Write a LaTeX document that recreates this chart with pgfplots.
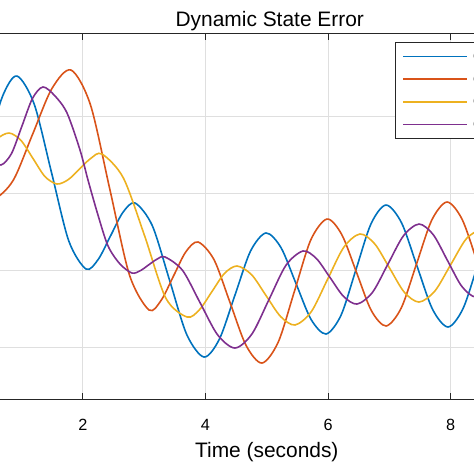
\documentclass[border=0pt]{standalone}
\usepackage{pgfplots}
\pgfplotsset{compat=1.18}
\usepackage{fontspec}
\setmainfont{Liberation Sans}

\definecolor{mblue}{RGB}{0,114,189}
\definecolor{morange}{RGB}{217,83,25}
\definecolor{myellow}{RGB}{237,177,32}
\definecolor{mpurple}{RGB}{126,47,142}
\definecolor{maxis}{RGB}{38,38,38}
\definecolor{mgrid}{RGB}{223,223,223}

\begin{document}
\begin{tikzpicture}
% the figure is a crop of a wider MATLAB plot
\useasboundingbox (0bp,0bp) rectangle (474bp,474bp);
\begin{axis}[
    at={(-39.7bp,75bp)}, anchor=south west,
    scale only axis, width=613bp, height=365bp,
    xmin=0, xmax=10, ymin=-1.675, ymax=3.065,
    xtick={2,4,6,8}, ytick={-1,0,1,2}, yticklabels={},
    grid=major, major grid style={mgrid, line width=1bp},
    axis line style={maxis, line width=1bp},
    tick style={maxis, line width=1bp}, major tick length=6bp,
    tick align=inside,
    /pgf/number format/assume math mode=true,
    ticklabel style={font=\fontsize{16.3}{19}\selectfont, text=black},
    xticklabel style={anchor=base, yshift=-31bp},
    every axis title shift=0pt,
    title={Dynamic State Error},
    title style={font=\fontsize{21}{25}\selectfont, at={(axis description cs:0.5,1.0192)}, anchor=base, xshift=3bp},
    xlabel={Time (seconds)},
    xlabel style={font=\fontsize{21}{25}\selectfont, at={(axis description cs:0.5,-0.1616)}, anchor=base},
    legend style={at={(axis description cs:0.709,0.978)}, anchor=north west,
        draw=maxis, line width=1bp, fill=white,
        font=\fontsize{16}{19}\selectfont,
        inner xsep=7bp, inner ysep=2.6bp, row sep=0pt, column sep=5bp,
        nodes={inner sep=0pt, text height=15.4bp, text depth=7.3bp}},
    legend cell align=left,
    legend image code/.code={\draw[#1, line width=1.6bp] (0bp,0bp) -- (64bp,0bp);},
    every axis plot/.append style={line width=1.6bp, smooth},
]
\addplot[mblue] coordinates {
(0.000,0.766) (0.228,1.022) (0.460,1.643) (0.693,2.264) (0.925,2.519)
(1.206,2.153) (1.488,1.266) (1.769,0.379) (2.051,0.013) (2.250,0.138)
(2.450,0.442) (2.650,0.745) (2.850,0.870) (3.131,0.578) (3.413,-0.130)
(3.694,-0.838) (3.976,-1.130) (4.228,-0.895) (4.481,-0.325) (4.734,0.245)
(4.987,0.481) (5.232,0.290) (5.476,-0.175) (5.721,-0.640) (5.966,-0.831)
(6.211,-0.587) (6.455,0.006) (6.700,0.600) (6.945,0.844) (7.198,0.613)
(7.450,0.052) (7.703,-0.509) (7.956,-0.740) (8.201,-0.501) (8.446,0.078)
(8.690,0.657) (8.935,0.896)
};
\addlegendentry{e\textsubscript{1}}
\addplot[morange] coordinates {
(0.000,1.065) (0.273,0.987) (0.550,0.922) (0.864,1.166) (1.178,1.760)
(1.492,2.353) (1.806,2.597) (2.124,2.143) (2.442,1.039) (2.760,-0.065)
(3.078,-0.519) (3.278,-0.391) (3.478,-0.078) (3.678,0.235) (3.878,0.364)
(4.139,0.134) (4.400,-0.422) (4.661,-0.978) (4.922,-1.208) (5.187,-0.935)
(5.452,-0.273) (5.717,0.390) (5.982,0.662) (6.223,0.460) (6.464,-0.032)
(6.704,-0.525) (6.945,-0.727) (7.194,-0.492) (7.442,0.078) (7.691,0.648)
(7.940,0.883) (8.185,0.660) (8.429,0.117) (8.674,-0.426) (8.919,-0.649)
};
\addlegendentry{e\textsubscript{2}}
\addplot[myellow] coordinates {
(0.000,1.234) (0.195,1.313) (0.395,1.506) (0.595,1.700) (0.795,1.779)
(0.990,1.683) (1.186,1.448) (1.382,1.213) (1.578,1.117) (1.761,1.174)
(1.945,1.312) (2.128,1.449) (2.312,1.506) (2.659,1.197) (3.005,0.448)
(3.352,-0.364) (3.699,-0.610) (3.903,-0.514) (4.106,-0.279) (4.310,-0.044)
(4.514,0.052) (4.751,-0.060) (4.987,-0.331) (5.224,-0.603) (5.460,-0.714)
(5.725,-0.542) (5.990,-0.123) (6.256,0.295) (6.520,0.468) (6.761,0.339)
(7.002,0.026) (7.242,-0.287) (7.483,-0.416) (7.740,-0.275) (7.997,0.065)
(8.254,0.405) (8.511,0.545)
};
\addlegendentry{e\textsubscript{3}}
\addplot[mpurple] coordinates {
(0.000,1.948) (0.162,1.862) (0.330,1.656) (0.497,1.449) (0.664,1.364)
(0.835,1.512) (1.006,1.870) (1.178,2.229) (1.349,2.377) (1.545,2.260)
(1.741,2.039) (1.953,1.558) (2.083,1.169) (2.246,0.714) (2.410,0.312)
(2.605,0.078) (2.801,-0.039) (2.936,-0.009) (3.070,0.065) (3.205,0.139)
(3.339,0.169) (3.625,-0.004) (3.910,-0.422) (4.196,-0.840) (4.481,-1.013)
(4.759,-0.829) (5.036,-0.383) (5.313,0.062) (5.591,0.247) (5.811,0.147)
(6.031,-0.097) (6.251,-0.342) (6.472,-0.442) (6.724,-0.290) (6.977,0.078)
(7.230,0.445) (7.483,0.597) (7.716,0.458) (7.948,0.123) (8.181,-0.212)
(8.413,-0.351) (8.654,-0.195) (8.894,0.182)
};
\addlegendentry{e\textsubscript{4}}
\end{axis}
\end{tikzpicture}
\end{document}
